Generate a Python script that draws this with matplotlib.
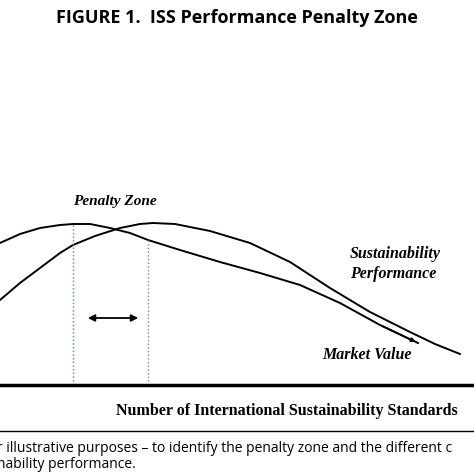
import matplotlib.pyplot as plt

# curves, in pixel coordinates (y grows downward)
market_x = [0, 20, 40, 60, 73, 90, 110, 130, 148, 180, 220, 260, 300, 340, 380, 418]
market_y = [243, 234, 228, 225, 224, 224, 228, 233, 240, 250, 262, 273, 285, 303, 325, 343]
sustain_x = [0, 20, 40, 60, 73, 95, 120, 140, 153, 175, 210, 250, 290, 330, 370, 410, 435, 460]
sustain_y = [300, 283, 268, 253, 245, 236, 228, 224, 223, 224, 231, 243, 262, 288, 312, 332, 344, 354]
zone_left, zone_right = 73, 148

fig = plt.figure(figsize=(4.74, 4.74), dpi=100)
ax = fig.add_axes([0, 0, 1, 1])
ax.set_xlim(0, 474)
ax.set_ylim(474, 0)
ax.axis('off')

ax.text(237, 18, 'FIGURE 1.  ISS Performance Penalty Zone', ha='center', va='center',
        fontsize=13, fontweight='bold', family='Open Sans')

ax.plot(market_x, market_y, color='black', lw=1.4)
ax.annotate('', xy=(market_x[-1], market_y[-1]), xytext=(market_x[-2], market_y[-2]),
            arrowprops=dict(arrowstyle='-|>', color='black', lw=1.2, mutation_scale=6))
ax.plot(sustain_x, sustain_y, color='black', lw=1.4)

ax.plot([zone_left, zone_left], [225, 385], color='#4a7fc0', lw=1, ls=':')
ax.plot([zone_right, zone_right], [240, 385], color='#8a8a5a', lw=1, ls=':')
ax.annotate('', xy=(85, 318), xytext=(141, 318),
            arrowprops=dict(arrowstyle='<|-|>', color='black', lw=1.3, mutation_scale=10))
ax.plot([0, 474], [385, 385], color='black', lw=2.5)

serif = 'Liberation Serif'
ax.text(115, 202, 'Penalty Zone', ha='center', va='center', fontsize=11,
        fontweight='bold', style='italic', family=serif)
ax.text(350, 264, 'Sustainability\nPerformance', ha='left', va='center', fontsize=11.5,
        fontweight='bold', style='italic', family=serif, linespacing=1.3)
ax.text(322, 355, 'Market Value', ha='left', va='center', fontsize=11.5,
        fontweight='bold', style='italic', family=serif)
ax.text(116, 411, 'Number of International Sustainability Standards', ha='left', va='center',
        fontsize=11.5, fontweight='bold', family=serif)

ax.plot([0, 474], [431, 431], color='black', lw=1)
ax.text(-3, 449, 'r illustrative purposes \u2013 to identify the penalty zone and the different c',
        ha='left', va='center', fontsize=10, family='Open Sans')
ax.text(-3, 465, 'nability performance.', ha='left', va='center', fontsize=10, family='Open Sans')

fig.savefig('out.png', dpi=100)
